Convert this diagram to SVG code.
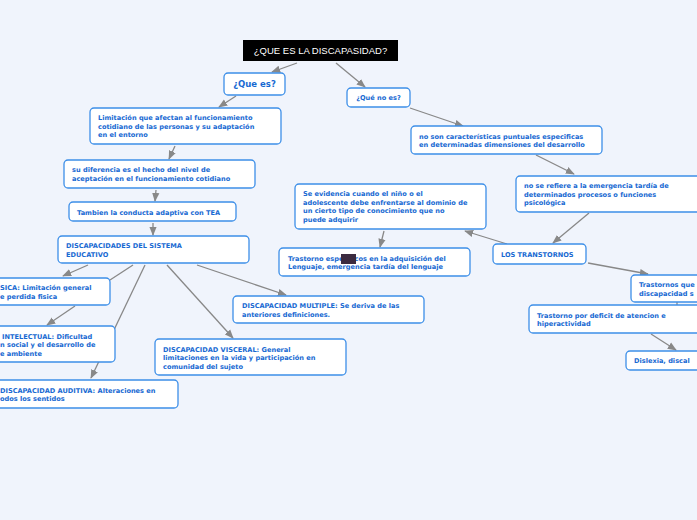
<svg xmlns="http://www.w3.org/2000/svg" width="697" height="520" viewBox="0 0 697 520">
<defs>
<marker id="ah" viewBox="0 0 10 10" refX="9" refY="5" markerWidth="7" markerHeight="7" orient="auto"><path d="M0,1 L10,5 L0,9 Z" fill="#888"/></marker>
<style>
.n{fill:#fff;stroke:#3d8fe8;stroke-width:1.3}
.t{font-family:"DejaVu Sans",sans-serif;font-weight:bold;font-size:6.6px;fill:#1769d2}
.c{stroke:#888;stroke-width:1.3;fill:none;marker-end:url(#ah)}
</style>
</defs>
<rect width="697" height="520" fill="#f0f4fc"/>
<g id="connectors">
<line class="c" x1="297" y1="63" x2="272" y2="72"/>
<line class="c" x1="336" y1="63" x2="365" y2="87"/>
<line class="c" x1="236" y1="96" x2="219" y2="107"/>
<line class="c" x1="175" y1="146" x2="169" y2="159"/>
<line class="c" x1="156" y1="190" x2="155" y2="201"/>
<line class="c" x1="153" y1="223" x2="153" y2="235"/>
<line class="c" x1="88" y1="265" x2="63" y2="276"/>
<line x1="133" y1="265" x2="110" y2="280" stroke="#888" stroke-width="1.3"/>
<line class="c" x1="75" y1="306" x2="47" y2="325"/>
<line class="c" x1="145" y1="265" x2="91" y2="378"/>
<line class="c" x1="167" y1="265" x2="233" y2="338"/>
<line class="c" x1="197" y1="265" x2="286" y2="295"/>
<line class="c" x1="410" y1="108" x2="463" y2="126"/>
<line class="c" x1="536" y1="155" x2="574" y2="174"/>
<line class="c" x1="589" y1="213" x2="553" y2="243"/>
<line class="c" x1="507" y1="244" x2="465" y2="231"/>
<line class="c" x1="384" y1="231" x2="380" y2="247"/>
<line class="c" x1="588" y1="263" x2="648" y2="274"/>
<line x1="677" y1="302" x2="677" y2="305" stroke="#888" stroke-width="1.3"/>
<line class="c" x1="651" y1="334" x2="676" y2="350"/>
</g>
<g id="title"><rect x="243" y="40" width="155" height="21" fill="#000"/><text x="320.5" y="54" text-anchor="middle" font-family="Liberation Sans,sans-serif" font-size="9.5" fill="#fff">¿QUE ES LA DISCAPASIDAD?</text></g>
<g id="quees"><rect class="n" x="224" y="73" width="61" height="22" rx="4"/><text class="t" x="254.5" y="87" text-anchor="middle" style="font-size:8.5px">¿Que es?</text></g>
<g id="quenoes"><rect class="n" x="347" y="88" width="63" height="19" rx="4"/><text class="t" x="378.5" y="100" text-anchor="middle">¿Qué no es?</text></g>
<g id="limitacion"><rect class="n" x="90" y="108" width="191" height="36" rx="4"/><text class="t" x="98" y="120">Limitación que afectan al funcionamiento</text><text class="t" x="98" y="128.5">cotidiano de las personas y su adaptación</text><text class="t" x="98" y="137">en el entorno</text></g>
<g id="diferencia"><rect class="n" x="64" y="160" width="191" height="28" rx="4"/><text class="t" x="72" y="172">su diferencia es el hecho del nivel de</text><text class="t" x="72" y="180.5">aceptación en el funcionamiento cotidiano</text></g>
<g id="tambien"><rect class="n" x="69" y="202" width="167" height="19" rx="4"/><text class="t" x="77" y="214.5">Tambien la conducta adaptiva con TEA</text></g>
<g id="discap"><rect class="n" x="58" y="236" width="191" height="27" rx="4"/><text class="t" x="66" y="247.5">DISCAPACIDADES DEL SISTEMA</text><text class="t" x="66" y="256.5">EDUCATIVO</text></g>
<g id="fisica"><rect class="n" x="-80" y="278" width="190" height="27" rx="4"/><text class="t" x="0" y="290">SICA: Limitación general</text><text class="t" x="0" y="298.5">e perdida fisica</text></g>
<g id="intelectual"><rect class="n" x="-76" y="326" width="191" height="36" rx="4"/><text class="t" x="2" y="338.5">INTELECTUAL: Dificultad</text><text class="t" x="0" y="347">n social y el desarrollo de</text><text class="t" x="0" y="355.5">e ambiente</text></g>
<g id="auditiva"><rect class="n" x="-13" y="380" width="191" height="28" rx="4"/><text class="t" x="0" y="392.5">DISCAPACIDAD AUDITIVA: Alteraciones en</text><text class="t" x="0" y="401">odos los sentidos</text></g>
<g id="visceral"><rect class="n" x="155" y="339" width="191" height="36" rx="4"/><text class="t" x="163" y="351.5">DISCAPACIDAD VISCERAL: General</text><text class="t" x="163" y="360">limitaciones en la vida y participación en</text><text class="t" x="163" y="368.5">comunidad del sujeto</text></g>
<g id="multiple"><rect class="n" x="233" y="296" width="191" height="27" rx="4"/><text class="t" x="242" y="308">DISCAPACIDAD MULTIPLE: Se deriva de las</text><text class="t" x="242" y="316.5">anteriores definiciones.</text></g>
<g id="noson"><rect class="n" x="411" y="126" width="191" height="28" rx="4"/><text class="t" x="419" y="138.5">no son características puntuales especificas</text><text class="t" x="419" y="147">en determinadas dimensiones del desarrollo</text></g>
<g id="noserefiere"><rect class="n" x="516" y="176" width="200" height="36" rx="4"/><text class="t" x="524" y="188">no se refiere a la emergencia tardía de</text><text class="t" x="524" y="196.5">determinados procesos o funciones</text><text class="t" x="524" y="205">psicológica</text></g>
<g id="evidencia"><rect class="n" x="295" y="184" width="191" height="45" rx="4"/><text class="t" x="303" y="196">Se evidencia cuando el niño o el</text><text class="t" x="303" y="204.5">adolescente debe enfrentarse al dominio de</text><text class="t" x="303" y="213">un cierto tipo de conocimiento que no</text><text class="t" x="303" y="221.5">puede adquirir</text></g>
<g id="trastornoesp"><rect class="n" x="279" y="248" width="191" height="28" rx="4"/><text class="t" x="288" y="260.5">Trastorno específicos en la adquisición del</text><text class="t" x="288" y="269">Lenguaje, emergencia tardía del lenguaje</text><rect x="341" y="254" width="15" height="10" fill="#3b2a3f"/></g>
<g id="transtornos"><rect class="n" x="493" y="244" width="93" height="20" rx="4"/><text class="t" x="501" y="256.5">LOS TRANSTORNOS</text></g>
<g id="trastornosque"><rect class="n" x="631" y="275" width="80" height="27" rx="4"/><text class="t" x="639" y="287">Trastornos que</text><text class="t" x="639" y="295.5">discapacidad s</text></g>
<g id="deficit"><rect class="n" x="529" y="305" width="180" height="28" rx="4"/><text class="t" x="537" y="317.5">Trastorno por deficit de atencion e</text><text class="t" x="537" y="326">hiperactividad</text></g>
<g id="dislexia"><rect class="n" x="626" y="351" width="90" height="19" rx="4"/><text class="t" x="634" y="363">Dislexia, discal</text></g>
</svg>
